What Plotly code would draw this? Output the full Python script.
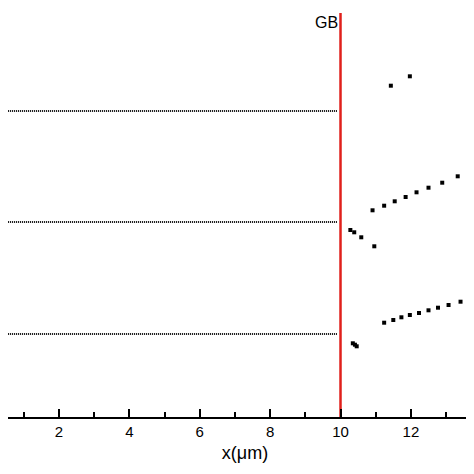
import plotly.graph_objects as go

# horizontal dotted profiles left of the grain boundary
line_levels = [306, 195, 83]
line_x = [0.5, 9.9]

# scattered points right of GB
top_x = [11.43, 11.97]
top_y = [331.3, 340.7]
mid_up_x = [10.91, 11.24, 11.54, 11.85, 12.16, 12.50, 12.89, 13.33, 13.65]
mid_up_y = [206.7, 211.3, 215.7, 220, 224.7, 229.3, 234.3, 240.7, 245]
mid_dn_x = [10.28, 10.39, 10.59, 10.96]
mid_dn_y = [187, 184.7, 179.7, 170.7]
bot_x = [11.24, 11.50, 11.73, 11.97, 12.23, 12.50, 12.77, 13.07, 13.41, 13.75]
bot_y = [94.3, 97, 99.7, 102, 104, 106.7, 109.3, 112, 115.3, 118.7]
near_x = [10.35, 10.41, 10.46]
near_y = [73.7, 72.3, 70.7]

GB_X = 10

fig = go.Figure()
for lv in line_levels:
    fig.add_trace(go.Scatter(x=line_x, y=[lv, lv], mode='lines',
                             line=dict(color='black', width=2, dash='1px,1px')))

xs = top_x + mid_up_x + mid_dn_x + bot_x + near_x
ys = top_y + mid_up_y + mid_dn_y + bot_y + near_y
fig.add_trace(go.Scatter(x=xs, y=ys, mode='markers',
                         marker=dict(color='black', size=4, symbol='square')))

fig.add_trace(go.Scatter(x=[GB_X, GB_X], y=[0, 404], mode='lines',
                         line=dict(color='#e0201b', width=2.5)))
fig.add_annotation(x=GB_X, y=395, text='GB', showarrow=False, xanchor='right',
                   yanchor='middle', xshift=-1, font=dict(size=16, color='black'))

fig.update_layout(
    width=474, height=474, showlegend=False,
    plot_bgcolor='white', paper_bgcolor='white',
    margin=dict(l=0, r=0, t=0, b=65),
    font=dict(family='Liberation Sans, Arial', color='black'),
)
fig.update_xaxes(range=[0.553, 14.02], tickvals=[2, 4, 6, 8, 10, 12, 14],
                 automargin=False,
                 ticks='inside', ticklen=8, tickwidth=1.5, tickcolor='black',
                 showline=True, linecolor='black', linewidth=1.5,
                 showgrid=False, zeroline=False,
                 tickfont=dict(size=15),
                 minor=dict(tickvals=[1, 3, 5, 7, 9, 11, 13], ticks='inside',
                            ticklen=5, tickwidth=1.5, tickcolor='black'),
                 title=dict(text='x(μm)', font=dict(size=18), standoff=8))
fig.update_yaxes(range=[0, 409], visible=False, automargin=False)

fig.write_html("out.html")
